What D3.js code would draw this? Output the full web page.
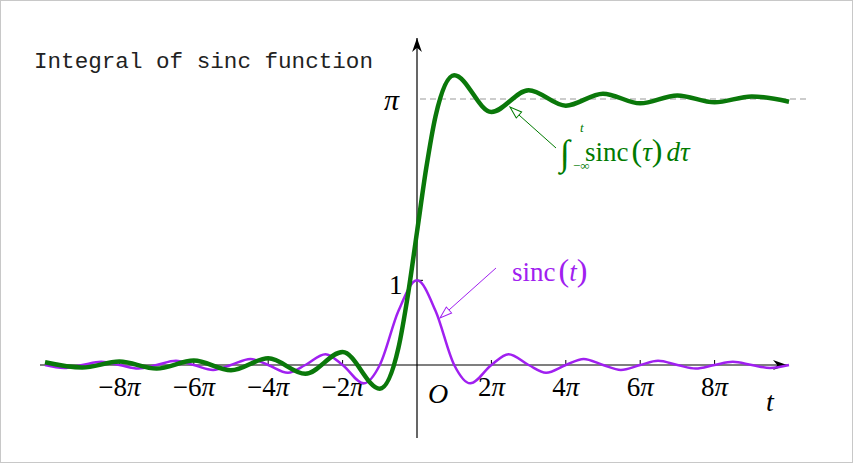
<!DOCTYPE html>
<html><head><meta charset="utf-8">
<script src="https://cdn.jsdelivr.net/npm/d3@7"></script>
<style>body{margin:0;background:#fff}svg{display:block}</style>
</head><body>
<svg id="chart" width="853" height="463"></svg>
<script>
// t values are in units of pi
const sincT = [-10,-9.49,-9,-8.49,-8,-7.49,-7,-6.48,-6,-5.48,-5,-4.48,-4,-3.47,-3,-2.46,-2,-1.43,-1,-0.5,0,0.5,1,1.43,2,2.46,3,3.47,4,4.48,5,5.48,6,6.48,7,7.49,8,8.49,9,9.49,10];
const sincV = [0,-0.034,0,0.037,0,-0.042,0,0.049,0,-0.058,0,0.071,0,-0.091,0,0.128,0,-0.217,0,0.637,1,0.637,0,-0.217,0,0.128,0,-0.091,0,0.071,0,-0.058,0,0.049,0,-0.042,0,0.037,0,-0.034,0];
const intT = [-10,-9,-8,-7,-6,-5,-4,-3,-2,-1,-0.5,-0.25,0,0.25,0.5,1,2,3,4,5,6,7,8,9,10];
const intV = [0.032,-0.03,0.04,-0.042,0.052,-0.063,0.079,-0.104,0.153,-0.281,0.2,0.812,1.571,2.33,2.942,3.423,2.989,3.246,3.063,3.205,3.09,3.184,3.102,3.172,3.109];
const tickPi = [-8,-6,-4,-2,2,4,6,8];

const svg = d3.select("#chart");
svg.append("rect").attr("x",0.5).attr("y",0.5).attr("width",852).attr("height",462)
  .attr("fill","#fff").attr("stroke","#c8c8c8");

const x = d3.scaleLinear().domain([-10*Math.PI, 10*Math.PI]).range([45, 789]);
const y = d3.scaleLinear().domain([0, Math.PI]).range([365, 99]);

const defs = svg.append("defs");
defs.append("marker").attr("id","ax").attr("viewBox","0 0 10 10").attr("refX",10).attr("refY",5)
  .attr("markerWidth",14).attr("markerHeight",14).attr("markerUnits","userSpaceOnUse").attr("orient","auto")
  .append("path").attr("d","M0,1.5L10,5L0,8.5L3,5Z").attr("fill","#000");
["g","p"].forEach((k,i)=>{
  defs.append("marker").attr("id","ar"+k).attr("viewBox","0 0 12 10").attr("refX",12).attr("refY",5)
    .attr("markerWidth",14).attr("markerHeight",10).attr("markerUnits","userSpaceOnUse").attr("orient","auto")
    .append("path").attr("d","M0,1L12,5L0,9Z").attr("fill","#fff").attr("stroke",i?"#a020f0":"#007a00");
});

// dashed pi line
svg.append("line").attr("x1",420).attr("x2",806).attr("y1",y(Math.PI)).attr("y2",y(Math.PI))
  .attr("stroke","#999").attr("stroke-dasharray","6,4");

// axes
svg.append("line").attr("x1",40).attr("x2",787).attr("y1",y(0)).attr("y2",y(0))
  .attr("stroke","#000").attr("stroke-width",1.2).attr("marker-end","url(#ax)");
svg.append("line").attr("x1",x(0)).attr("x2",x(0)).attr("y1",438).attr("y2",38)
  .attr("stroke","#000").attr("stroke-width",1.2).attr("marker-end","url(#ax)");
svg.selectAll(".tk").data(tickPi).join("line").attr("x1",d=>x(d*Math.PI)).attr("x2",d=>x(d*Math.PI))
  .attr("y1",y(0)).attr("y2",y(0)-5).attr("stroke","#000");
svg.append("line").attr("x1",x(0)).attr("x2",x(0)+6).attr("y1",y(1)).attr("y2",y(1)).attr("stroke","#000");

const serif = "'Liberation Serif','Times New Roman',serif";
const tl = svg.selectAll(".tl").data(tickPi).join("text").attr("x",d=>x(d*Math.PI)).attr("y",396)
  .attr("text-anchor","middle").attr("font-family",serif).attr("font-size",27);
tl.append("tspan").text(d=>(d<0?"\u2212":"")+Math.abs(d));
tl.append("tspan").attr("font-style","italic").text("\u03c0");
svg.append("text").attr("x",428).attr("y",403).attr("font-family",serif).attr("font-style","italic")
  .attr("font-size",28).text("O");
svg.append("text").attr("x",766).attr("y",411).attr("font-family",serif).attr("font-style","italic")
  .attr("font-size",28).text("t");
svg.append("text").attr("x",389).attr("y",294).attr("font-family",serif).attr("font-size",27).text("1");
svg.append("text").attr("x",384).attr("y",110).attr("font-family",serif).attr("font-style","italic")
  .attr("font-size",30).text("\u03c0");

// curves
const line = d3.line().x(d=>x(d[0]*Math.PI)).y(d=>y(d[1])).curve(d3.curveMonotoneX);
svg.append("path").attr("d",line(sincT.map((t,i)=>[t,sincV[i]])))
  .attr("fill","none").attr("stroke","#a020f0").attr("stroke-width",2.5);
svg.append("path").attr("d",line(intT.map((t,i)=>[t,intV[i]])))
  .attr("fill","none").attr("stroke","#0a780a").attr("stroke-width",4.5);

// title
svg.append("text").attr("x",34).attr("y",68).attr("font-family","'Liberation Mono','Courier New',monospace")
  .attr("font-size",22.6).attr("fill","#222").text("Integral of sinc function");

// annotations
svg.append("line").attr("x1",556).attr("y1",148).attr("x2",510).attr("y2",107)
  .attr("stroke","#007a00").attr("marker-end","url(#arg)");
const g1 = svg.append("g").attr("fill","#007a00").attr("font-family",serif);
g1.append("text").attr("x",560).attr("y",165).attr("font-size",36).text("\u222b");
g1.append("text").attr("x",580).attr("y",132).attr("font-size",13).attr("font-style","italic").text("t");
g1.append("text").attr("x",573).attr("y",170).attr("font-size",13).text("\u2212\u221e");
const it = g1.append("text").attr("x",585).attr("y",161).attr("font-size",27);
it.append("tspan").text("sinc");
it.append("tspan").attr("font-size",32).attr("dx",3).text("(");
it.append("tspan").attr("font-style","italic").text("\u03c4");
it.append("tspan").attr("font-size",32).text(")");
it.append("tspan").attr("font-style","italic").attr("dx",4).text("d\u03c4");

svg.append("line").attr("x1",496).attr("y1",268).attr("x2",440).attr("y2",318)
  .attr("stroke","#a020f0").attr("marker-end","url(#arp)");
const st = svg.append("text").attr("x",512).attr("y",281).attr("fill","#a020f0")
  .attr("font-family",serif).attr("font-size",27);
st.append("tspan").text("sinc");
st.append("tspan").attr("font-size",32).attr("dx",3).text("(");
st.append("tspan").attr("font-style","italic").text("t");
st.append("tspan").attr("font-size",32).text(")");
</script>
</body></html>
